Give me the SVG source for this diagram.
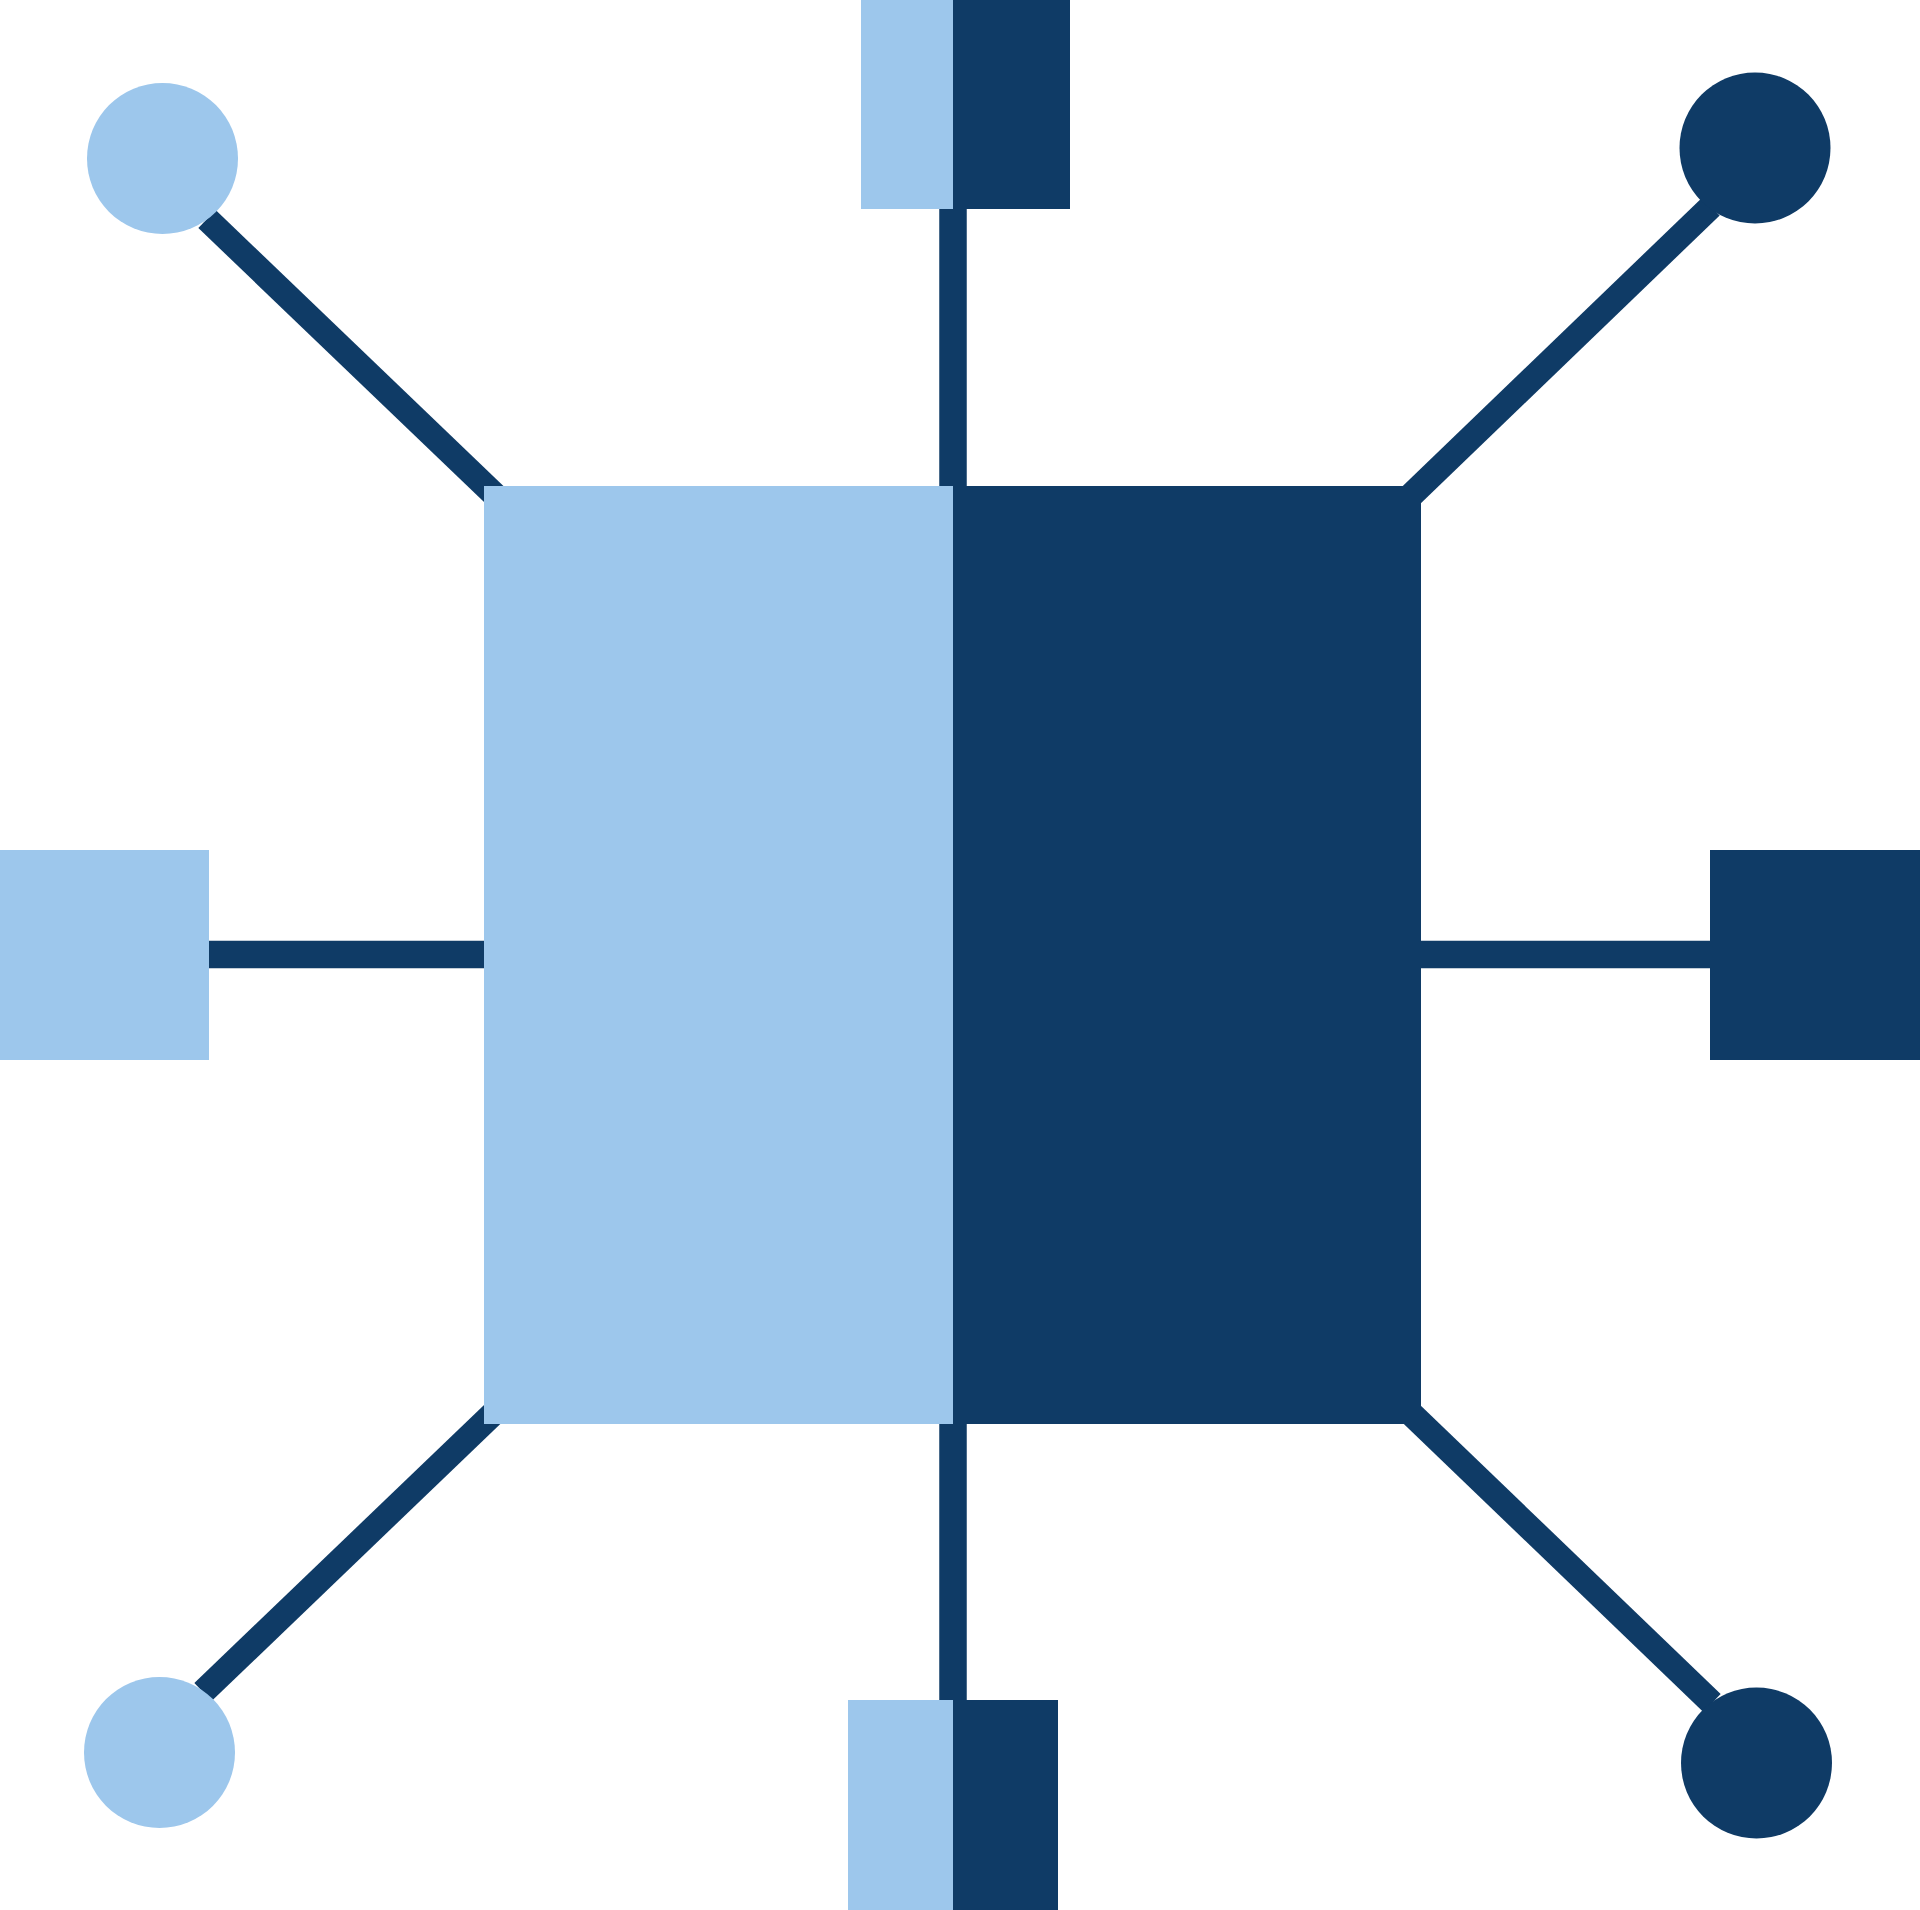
<svg xmlns="http://www.w3.org/2000/svg" width="1920" height="1910" viewBox="0 0 1920 1910">
  <style>
    .light { fill: #9dc7ec; }
    .dark { fill: #0f3b66; }
    .conn { stroke: #0f3b66; stroke-linecap: butt; fill: none; }
    .axis { stroke-width: 27.5; }
    .diag { stroke-width: 25; }
  </style>
  <rect x="0" y="0" width="1920" height="1910" fill="#ffffff"/>
  <g id="connectors">
    <line class="conn axis" x1="953" y1="200" x2="953" y2="1710"/>
    <line class="conn axis" x1="200" y1="954.5" x2="1720" y2="954.5"/>
    <line class="conn diag" x1="207" y1="219" x2="500" y2="500"/>
    <line class="conn diag" x1="1711" y1="206.5" x2="1400" y2="506"/>
    <line class="conn diag" x1="203" y1="1692" x2="500" y2="1407"/>
    <line class="conn diag" x1="1712" y1="1703" x2="1400" y2="1403"/>
  </g>
  <g id="center">
    <rect class="light" x="484" y="486" width="469" height="938"/>
    <rect class="dark" x="953" y="486" width="468" height="938"/>
  </g>
  <g id="top-square">
    <rect class="light" x="861" y="0" width="92" height="209"/>
    <rect class="dark" x="953" y="0" width="117" height="209"/>
  </g>
  <g id="bottom-square">
    <rect class="light" x="848" y="1700" width="105" height="210"/>
    <rect class="dark" x="953" y="1700" width="105" height="210"/>
  </g>
  <g id="left-square">
    <rect class="light" x="0" y="850" width="209" height="210"/>
  </g>
  <g id="right-square">
    <rect class="dark" x="1710" y="850" width="210" height="210"/>
  </g>
  <g id="circle-top-left">
    <circle class="light" cx="162.5" cy="158.5" r="75.5"/>
  </g>
  <g id="circle-top-right">
    <circle class="dark" cx="1755" cy="148" r="75.5"/>
  </g>
  <g id="circle-bottom-left">
    <circle class="light" cx="159.5" cy="1752.5" r="75.5"/>
  </g>
  <g id="circle-bottom-right">
    <circle class="dark" cx="1756.5" cy="1763" r="75.5"/>
  </g>
</svg>
